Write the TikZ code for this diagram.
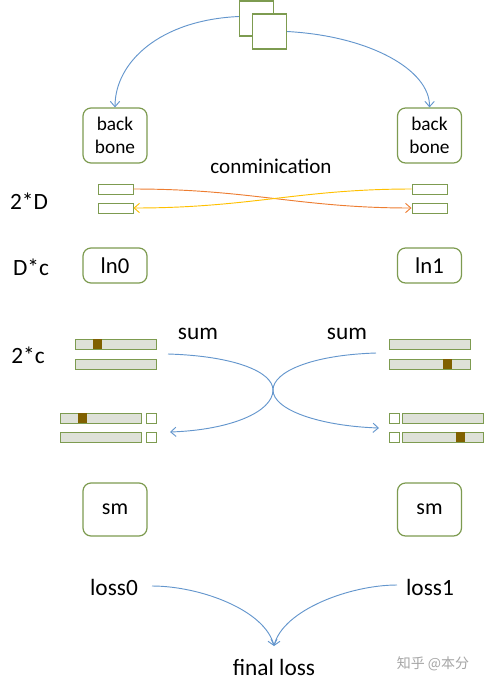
\documentclass[tikz,border=0pt]{standalone}
\usepackage{fontspec}
\setmainfont{Carlito}
\newfontfamily\cjk{Noto Sans CJK SC}
\usetikzlibrary{arrows.meta}
\definecolor{gborder}{RGB}{125,155,80}
\definecolor{barfill}{RGB}{222,225,216}
\definecolor{darksq}{RGB}{128,96,0}
\definecolor{arrowblue}{RGB}{100,150,205}
\definecolor{orangec}{RGB}{237,125,49}
\definecolor{yellowc}{RGB}{255,192,0}
\tikzset{
  rbox/.style={draw=gborder, line width=0.9pt, rounded corners=6pt, fill=white, minimum width=48pt, inner sep=0pt, align=center},
  sqbox/.style={draw=gborder, line width=0.8pt, fill=white, minimum width=25.5pt, minimum height=26.25pt, inner sep=0pt},
  smallrect/.style={draw=gborder, line width=0.7pt, fill=white, minimum width=26.25pt, minimum height=7.5pt, inner sep=0pt},
  bar/.style={draw=gborder, line width=0.7pt, fill=barfill, minimum width=60.75pt, minimum height=7.5pt, inner sep=0pt},
  dsq/.style={fill=darksq, minimum width=6.75pt, minimum height=7.5pt, inner sep=0pt},
  wsq/.style={draw=gborder, line width=0.7pt, fill=white, minimum width=7.5pt, minimum height=7.5pt, inner sep=0pt},
  lbl/.style={font=\fontsize{17.5}{20}\selectfont, inner sep=0pt},
  bluearrow/.style={draw=arrowblue, line width=0.7pt, -{Straight Barb[length=4pt,width=7pt]}},
}
\begin{document}
\begin{tikzpicture}[x=0.75pt,y=-0.75pt]
\useasboundingbox (0,0) rectangle (484,687);
% top squares
\node[sqbox] (sq1) at (256.5,18.5) {};
\node[sqbox] (sq2) at (269.5,31.5) {};
% backbones
\node[rbox, minimum height=41.25pt, font=\fontsize{14.5}{17.5}\selectfont] (bb0) at (115,135.5) {back\\bone};
\node[rbox, minimum height=41.25pt, font=\fontsize{14.5}{17.5}\selectfont] (bb1) at (429.5,135.5) {back\\bone};
\draw[bluearrow] ([yshift=1.5pt]sq1.west) .. controls (160,20) and (115,62) .. (bb0.north);
\draw[bluearrow] ([yshift=0pt]sq2.east) .. controls (370,36) and (430,70) .. (bb1.north);
% communication
\node[font=\fontsize{15.8}{18}\selectfont, inner sep=0pt] (comm) at (271,166) {conminication};
\node[lbl] (twoD) at (29,201) {2*D};
\node[smallrect] (r0a) at (115.5,189) {};
\node[smallrect] (r0b) at (115.5,208) {};
\node[smallrect] (r1a) at (429.5,189) {};
\node[smallrect] (r1b) at (429.5,208) {};
\draw[draw=orangec, line width=0.7pt, -{Straight Barb[length=4pt,width=7pt]}] (r0a.east) .. controls (250,189) and (300,208) .. (r1b.west);
\draw[draw=yellowc, line width=0.7pt, -{Straight Barb[length=4pt,width=7pt]}] (r1a.west) .. controls (300,189) and (250,208) .. (r0b.east);
% ln
\node[lbl] (Dc) at (31,267) {D*c};
\node[rbox, minimum height=26.25pt, font=\fontsize{17}{18}\selectfont] (ln0) at (115,265.5) {ln0};
\node[rbox, minimum height=26.25pt, font=\fontsize{17}{18}\selectfont] (ln1) at (429.5,265.5) {ln1};
% 2*c bars
\node[lbl] (twoc) at (28,355) {2*c};
\node[bar] (bL1) at (115.5,344) {};
\node[dsq] (dL1) at (97.5,344) {};
\node[bar] (bL2) at (115.5,364) {};
\node[bar] (bR1) at (429.5,344) {};
\node[bar] (bR2) at (429.5,364) {};
\node[dsq] (dR2) at (447.5,364) {};
\node[lbl] (sumL) at (198,334) {sum};
\node[lbl] (sumR) at (347,334) {sum};
% lower bars
\node[bar] (cL1) at (101,418) {};
\node[dsq] (dcL1) at (82.5,418) {};
\node[wsq] (sL1) at (151,418) {};
\node[bar] (cL2) at (101,437) {};
\node[wsq] (sL2) at (151,437) {};
\node[wsq] (sR1) at (394,418) {};
\node[bar] (cR1) at (442.5,418) {};
\node[wsq] (sR2) at (394,437) {};
\node[bar] (cR2) at (442.5,437) {};
\node[dsq] (dcR2) at (460.5,437) {};
% sum curves
\coordinate (sL0) at (168,354);
\coordinate (sR0) at (376,353);
\coordinate (mid) at (273,390);
\coordinate (eL) at (170,432);
\coordinate (eR) at (379,428);
\draw[bluearrow] (sL0) .. controls (235,356) and (273,372) .. (mid) .. controls (273,412) and (230,430) .. (eL);
\draw[bluearrow] (sR0) .. controls (311,355) and (273,372) .. (mid) .. controls (273,410) and (320,426) .. (eR);
% sm
\node[rbox, minimum height=39.75pt, font=\fontsize{16.5}{18}\selectfont] (sm0) at (115,509.5) {sm};
\node[rbox, minimum height=39.75pt, font=\fontsize{16.5}{18}\selectfont] (sm1) at (429.5,509.5) {sm};
% losses
\node[lbl] (loss0) at (114,587) {loss0};
\node[lbl] (loss1) at (430,587) {loss1};
\node[lbl] (final) at (274,667) {final loss};
\coordinate (fin) at (274,646);
\draw[bluearrow] (152,586) .. controls (200,586) and (265,610) .. (fin);
\draw[bluearrow] (397,585) .. controls (350,585) and (283,610) .. (fin);
% watermark
\node[font=\cjk\fontsize{10.5}{12}\selectfont, text=black!35, inner sep=0pt] (wm) at (433,664) {知乎 @本分};
\end{tikzpicture}
\end{document}
